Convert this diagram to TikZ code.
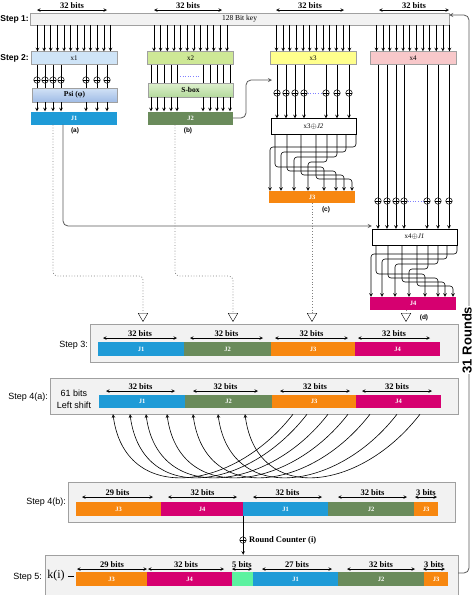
\documentclass[tikz,border=0pt]{standalone}
\usepackage{fontspec}
\setmainfont{Liberation Serif}
\setsansfont{Liberation Sans}
\usetikzlibrary{shapes.geometric}

\definecolor{jone}{RGB}{31,155,215}
\definecolor{jtwo}{RGB}{106,139,91}
\definecolor{jthree}{RGB}{247,135,16}
\definecolor{jfour}{RGB}{214,0,112}
\definecolor{mint}{RGB}{92,242,160}
\definecolor{xone}{RGB}{207,228,247}
\definecolor{xtwo}{RGB}{206,232,150}
\definecolor{xthree}{RGB}{255,255,140}
\definecolor{xfour}{RGB}{248,200,202}
\definecolor{psitop}{RGB}{210,226,246}
\definecolor{psibot}{RGB}{160,188,230}
\definecolor{sboxtop}{RGB}{222,240,206}
\definecolor{sboxbot}{RGB}{180,218,156}
\definecolor{panelgray}{RGB}{242,242,242}
\definecolor{rim}{RGB}{160,160,160}

\tikzset{
    jbar/.style={minimum height=13pt, inner sep=0pt, text=white, font=\fontsize{6.5}{7}\selectfont\bfseries},
    xbox/.style={draw=rim, minimum width=86pt, minimum height=13pt, inner sep=0pt, font=\fontsize{7}{8}\selectfont},
    panelbox/.style={draw=rim, fill=panelgray, inner sep=0pt},
    steplabel/.style={anchor=east, inner sep=1pt, font=\sffamily\fontsize{9}{10}\selectfont},
    bits/.style={above, inner sep=0.8pt, font=\fontsize{8.5}{9}\selectfont\bfseries},
    bitspan/.style={stealth-stealth, line width=0.6pt},
    bitarrow/.style={-stealth, line width=0.6pt},
    wire/.style={-stealth, line width=0.6pt, rounded corners=3pt},
    xorc/.style={circle, draw, fill=white, inner sep=0pt, minimum size=6.5pt, line width=0.5pt,
        path picture={\draw[line width=0.5pt] (path picture bounding box.north) -- (path picture bounding box.south)
            (path picture bounding box.west) -- (path picture bounding box.east);}},
    vee/.style={draw, fill=white, regular polygon, regular polygon sides=3, shape border rotate=180, minimum size=11pt, inner sep=0pt},
    dots/.style={gray, dotted, line width=0.8pt, rounded corners=4pt},
    feed/.style={-stealth, draw=black!65, line width=0.8pt, rounded corners=5pt},
    tag/.style={inner sep=0pt, font=\sffamily\bfseries\fontsize{6.5}{7}\selectfont}
}

\begin{document}
\begin{tikzpicture}[x=1pt, y=-1pt]
            \clip (0,0) rectangle (474,595);
            % step 1
            \node[panelbox, minimum width=419pt, minimum height=12pt, font=\fontsize{7.5}{8}\selectfont] (key) at (239.5,19) {128 Bit key};
            \node[steplabel, font=\sffamily\bfseries\fontsize{8.5}{9}\selectfont] (st1) at (30,19) {Step 1:};
            \foreach \lx/\rx [count=\n] in {37/107,154/222,276/344,379/449}
                \draw[bitspan] (\lx,10) -- node[bits] (kb\n) {32 bits} (\rx,10);
            % step 2
            \node[steplabel, font=\sffamily\bfseries\fontsize{8.5}{9}\selectfont] (st2) at (30,58) {Step 2:};
            \node[xbox, fill=xone] (x1) at (74,58) {x1};
            \node[xbox, fill=xtwo] (x2) at (190.5,58) {x2};
            \node[xbox, fill=xthree] (x3) at (313,58) {x3};
            \node[xbox, fill=xfour] (x4) at (413,58) {x4};
            \foreach \b/\cx in {1/74,2/190.5,3/313,4/413}
                \foreach \i in {0,...,11} {
                    \pgfmathsetmacro\px{\cx-36.5+\i*6.636}
                    \draw[bitarrow] (\px,0 |- key.south) -- (\px,0 |- x\b.north);
                }
            % (a)
            \node[draw=rim, top color=psitop, bottom color=psibot, minimum width=85pt, minimum height=14pt, inner sep=0pt, font=\fontsize{7.5}{8}\selectfont\bfseries] (psi) at (74.5,95) {Psi (φ)};
            \node[jbar, fill=jone, minimum width=86pt] (j1) at (74,118) {J1};
            \foreach \px [count=\k] in {37,45,53,61,86,97,107} {
                \draw[line width=0.5pt] (\px,0 |- x1.south) -- (\px,0 |- psi.north);
                \node[xorc] (ox1\k) at (\px,80) {};
                \draw[bitarrow] (\px,0 |- psi.south) -- (\px,0 |- j1.north);
            }
            % (b)
            \node[draw=rim, top color=sboxtop, bottom color=sboxbot, minimum width=85pt, minimum height=14pt, inner sep=0pt, font=\fontsize{7.5}{8}\selectfont\bfseries] (sbox) at (190.5,90) {S-box};
            \node[jbar, fill=jtwo, minimum width=85pt] (j2) at (190.5,118) {J2};
            \foreach \px in {151,157,164,171,177,203,210,217,223,230} {
                \draw[line width=0.5pt] (\px,0 |- x2.south) -- (\px,0 |- sbox.north);
                \draw[bitarrow] (\px,0 |- sbox.south) -- (\px,0 |- j2.north);
            }
            \draw[dotted, blue!50, line width=0.6pt] (180,76) -- (200,76);
            % (c)
            \node[draw, fill=white, minimum width=85pt, minimum height=16pt, inner sep=0pt, font=\fontsize{7}{8}\selectfont] (x3j2) at (313.5,126.5) {x3$\oplus$\textit{J2}};
            \node[jbar, fill=jthree, minimum width=86pt, minimum height=12pt] (j3) at (312,197) {J3};
            \foreach \px [count=\k] in {277,286,295,304,326,337,349} {
                \draw[bitarrow] (\px,0 |- x3.south) -- (\px,0 |- x3j2.north);
                \node[xorc] (ox3\k) at (\px,93) {};
            }
            \draw[dotted, blue!50, line width=0.6pt] (ox34) -- (ox35);
            \foreach \tx/\ly/\bx in {356/147/270, 346/152/281, 337/157/294, 327/162/308,
                                    275/167/324, 287/171/336, 301/175/344, 316/179/352}
                \draw[wire] (\tx,0 |- x3j2.south) |- (\bx,\ly) -- (\bx,0 |- j3.north);
            % (d)
            \node[draw, fill=white, minimum width=85pt, minimum height=16pt, inner sep=0pt, font=\fontsize{7}{8}\selectfont] (x4j1) at (414.5,237) {x4$\oplus$\textit{J1}};
            \node[jbar, fill=jfour, minimum width=86pt] (j4) at (413,303.5) {J4};
            \foreach \px [count=\k] in {378,387,396,404,427,438,449} {
                \draw[bitarrow] (\px,0 |- x4.south) -- (\px,0 |- x4j1.north);
                \node[xorc] (ox4\k) at (\px,201) {};
            }
            \draw[dotted, blue!50, line width=0.6pt] (ox44) -- (ox45);
            \foreach \tx/\ly/\bx in {457/254/371, 447/259/382, 438/264/395, 428/269/409,
                                    376/274/425, 388/278/438, 402/282/445, 417/286/453}
                \draw[wire] (\tx,0 |- x4j1.south) |- (\bx,\ly) -- (\bx,0 |- j4.north);
            \coordinate (j2in) at (272,80);
            \draw[feed] (j2.east) -| (246,100) |- (j2in);
            \draw[feed] (j1.south -| 63,0) |- (x4j1.west |- 0,226);
            \node[tag] (ta) at (75,131) {(a)};
            \node[tag] (tb) at (188,131) {(b)};
            \node[tag] (tc) at (326,210) {(c)};
            \node[tag] (td) at (424,318) {(d)};
            \foreach \px [count=\n] in {143,233,312,406}
                \node[vee] (v\n) at (\px,316) {};
            \draw[dots] (j1.south -| 53,0) |- (v1.north |- 0,276) -- (v1.north);
            \draw[dots] (j2.south -| 175,0) |- (v2.north |- 0,276) -- (v2.north);
            \draw[dots] (j3.south -| v3.north) -- (v3.north);
            \draw[dots] (j4.south -| v4.north) -- (v4.north);
            % step 3
            \node[panelbox, minimum width=368pt, minimum height=38pt] (s3) at (274,343) {};
            \node[steplabel] (st3) at (89,345) {Step 3:};
            \foreach \cx/\bw/\fc/\tx [count=\n] in {141/86/jone/J1, 227.5/87/jtwo/J2, 313/84/jthree/J3, 397.5/85/jfour/J4}
                \node[jbar, fill=\fc, minimum width=\bw, minimum height=14pt] (s3j\n) at (\cx,349) {\tx};
            \foreach \lx/\rx [count=\n] in {103/177,190/263,275/348,358/430}
                \draw[bitspan] (\lx,338) -- node[bits] (s3b\n) {32 bits} (\rx,338);
            % step 4(a)
            \node[panelbox, minimum width=408pt, minimum height=36pt] (s4a) at (254,396) {};
            \node[steplabel] (st4a) at (49,397) {Step 4(a):};
            \node[font=\sffamily\fontsize{9}{12}\selectfont, align=center, inner sep=0pt] (shift) at (74,399) {61 bits\\Left shift};
            \foreach \cx/\bw/\fc/\tx [count=\n] in {142/86/jone/J1, 228.5/87/jtwo/J2, 314/84/jthree/J3, 398.5/85/jfour/J4}
                \node[jbar, fill=\fc, minimum width=\bw] (s4aj\n) at (\cx,401.5) {\tx};
            \foreach \lx/\rx [count=\n] in {106/175,193/258,280/350,362/432}
                \draw[bitspan] (\lx,391) -- node[bits] (s4ab\n) {32 bits} (\rx,391);
            \foreach \sx/\ex in {293/113,307/130,328/146,348/167,370/193,397/218,420/245}
                \draw[bitarrow] (\sx,0 |- s4a.south) .. controls (\sx-60,492) and (\ex+12,505) .. (\ex,0 |- s4a.south);
            % step 4(b)
            \node[panelbox, minimum width=387pt, minimum height=40pt] (s4b) at (261.5,502) {};
            \node[steplabel] (st4b) at (67,502) {Step 4(b):};
            \foreach \cx/\bw/\fc/\tx [count=\n] in {118.5/85/jthree/J3, 202/82/jfour/J4, 285.5/85/jone/J1, 371/86/jtwo/J2, 426/24/jthree/J3}
                \node[jbar, fill=\fc, minimum width=\bw, minimum height=14pt] (s4bj\n) at (\cx,509) {\tx};
            \foreach \lx/\rx/\tx [count=\n] in {82/153/29 bits, 168/237/32 bits, 253/322/32 bits, 338/407/32 bits, 415/437/3 bits}
                \draw[bitspan] (\lx,497) -- node[bits] (s4bb\n) {\tx} (\rx,497);
            % step 5
            \node[panelbox, minimum width=413pt, minimum height=50pt] (s5) at (251.5,580) {};
            \node[steplabel] (st5) at (43,577) {Step 5:};
            \node[inner sep=0pt, font=\fontsize{12}{13}\selectfont] (ki) at (56,576) {k(i)};
            \foreach \cx/\bw/\fc/\tx [count=\n] in {111.5/71/jthree/J3, 189.5/85/jfour/J4, 242.5/21/mint/{}, 295.5/85/jone/J1, 381/86/jtwo/J2, 436/24/jthree/J3}
                \node[jbar, fill=\fc, minimum width=\bw, minimum height=14pt] (s5j\n) at (\cx,579) {\tx};
            \foreach \lx/\rx/\tx [count=\n] in {77/147/29 bits, 148/224/32 bits, 232/252/5 bits, 262/332/27 bits, 347/415/32 bits, 423/445/3 bits}
                \draw[bitspan] (\lx,569) -- node[bits] (s5b\n) {\tx} (\rx,569);
            \draw[line width=0.6pt, shorten <=3pt, shorten >=2pt] (ki.east) -- (s5j1.west |- ki.east);
            \draw[bitarrow] (s4bj2.south east) -- (s5.north -| s4bj2.south east);
            \node[xorc] (rc) at (243,540) {};
            \node[anchor=west, inner sep=0pt, font=\fontsize{8.5}{9}\selectfont\bfseries] (rcl) at (249,540) {Round Counter (i)};
            % rounds loop
            \draw[feed] (s5.east |- 0,573) -| (469,300) |- (key.east |- 0,15);
            \node[rotate=90, fill=white, inner sep=1pt, font=\sffamily\bfseries\fontsize{13}{14}\selectfont] (rounds) at (467,340) {31 Rounds};
        \end{tikzpicture}
\end{document}
